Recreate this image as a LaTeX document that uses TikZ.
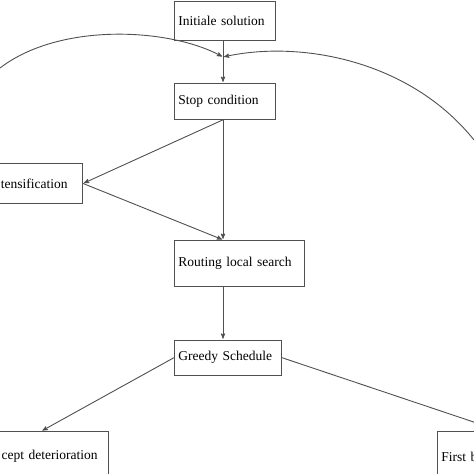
\documentclass[tikz,border=0pt]{standalone}
\usepackage{fontspec}
\setmainfont{Liberation Serif}
\usepackage{tikz}
\usetikzlibrary{arrows}
\usetikzlibrary{positioning}
\definecolor{linegray}{HTML}{505050}
\tikzstyle{blk} = [rectangle, draw=linegray, text=black, anchor=north west,
    align=left, inner xsep=4pt, inner ysep=0pt,
    font=\fontsize{13.5}{16}\selectfont]

\begin{document}
\begin{tikzpicture}[->,>=stealth',shorten >=1pt,line width=0.9pt,draw=linegray,
                    x=1pt,y=-1pt]
  \path[use as bounding box,clip] (0,0) rectangle (474,474);

  \node[blk,text width=93pt,minimum height=39pt]  (init) at (174,1) {Initiale solution};
  \node[blk,text width=93pt,minimum height=36pt]  (stop) [below=42pt of init.south west,anchor=north west] {Stop condition};
  \node[blk,text width=122pt,minimum height=46pt] (routing) [below=120pt of stop.south west,anchor=north west] {Routing local search};
  \node[blk,text width=99pt,minimum height=35pt]  (greedy) [below=53pt of routing.south west,anchor=north west] {Greedy Schedule};
  \node[blk,anchor=north east,align=right,inner xsep=15pt,text width=100pt,minimum height=40pt] (intens) at (83,163) {tensification};
  \node[blk,anchor=north east,align=right,inner xsep=11pt,text width=112pt,minimum height=50pt] (accept) at (109,431) {cept deterioration};
  \node[blk,text width=118pt,minimum height=50pt] (first) at (437,431) {First b};

  \coordinate (join) at (223,57);
  \coordinate (loopL) at (0,68);
  \coordinate (loopR) at (474,140);

  \draw (init.south -| join) -- (stop.north -| join);
  \draw (stop.south -| join) -- (routing.north -| join);
  \draw (stop.south -| join) -- (intens.east);
  \draw (intens.east) -- (routing.north -| join);
  \draw (routing.south -| join) -- (greedy.north -| join);
  \draw (greedy.west) -- (accept.north);
  \draw (greedy.east) -- (first.north);
  \draw (loopL) .. controls (60,22) and (170,28) .. (join);
  \draw (loopR) .. controls (410,60) and (300,40) .. (join);
\end{tikzpicture}
\end{document}
